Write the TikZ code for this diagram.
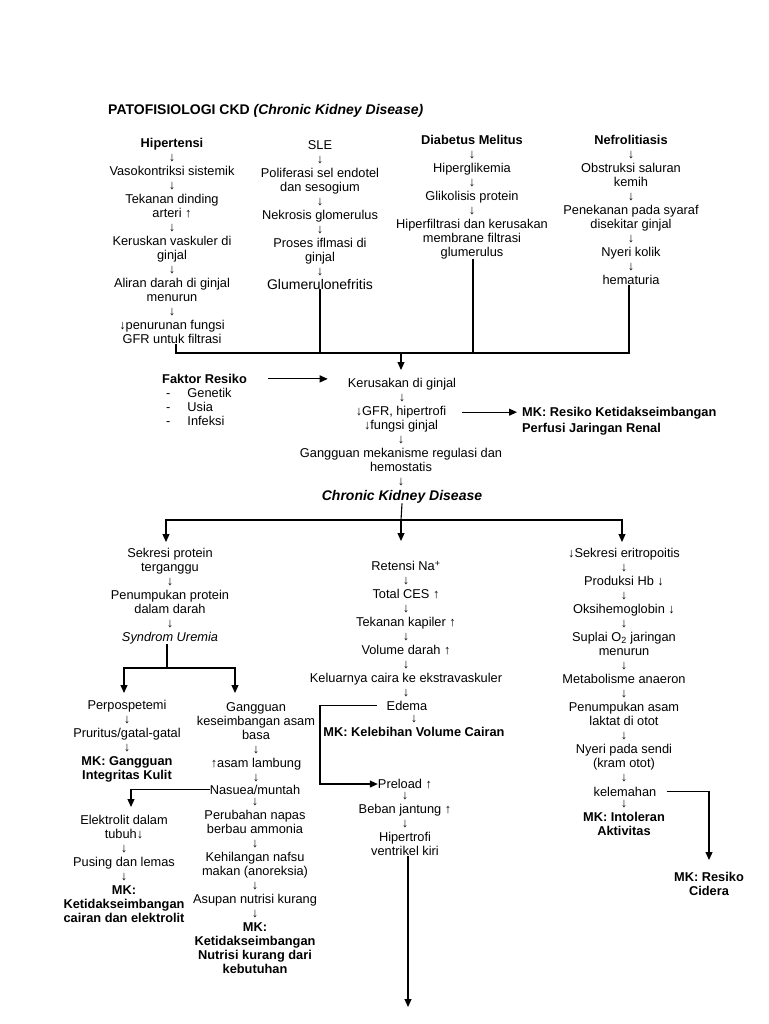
\documentclass[tikz,border=0pt]{standalone}
\usepackage{fontspec}
\setmainfont{Liberation Sans}
\usepackage{tikz}
\usetikzlibrary{arrows.meta,positioning,calc}
\tikzset{
    wire/.style={line width=1.1pt},
    arr/.style={->,>={Triangle[length=8pt,width=7pt]},line width=1.1pt},
    flow text/.style={anchor=north,align=center},
    mk text/.style={font=\fontsize{12.8}{14}\selectfont\bfseries},
}
\tikzstyle{every node}=[font=\fontsize{12.8}{14}\selectfont,inner sep=0pt]

\begin{document}
\begin{tikzpicture}[x=1pt,y=1pt]
    \path[use as bounding box,fill=white] (0,0) rectangle (768,-1024);

    \node[anchor=base west,font=\fontsize{14}{16}\selectfont\bfseries] (title) at (108,-115)
        {PATOFISIOLOGI CKD \textit{(Chronic Kidney Disease)}};

    % penyebab
    \node[flow text] (hip) at (172,-138) {\textbf{Hipertensi}\\↓\\Vasokontriksi sistemik\\↓\\Tekanan dinding\\arteri ↑\\↓\\Keruskan vaskuler di\\ginjal\\↓\\Aliran darah di ginjal\\menurun\\↓\\↓penurunan fungsi\\GFR untuk filtrasi};
    \node[flow text] (sle) at (320,-140) {SLE\\↓\\Poliferasi sel endotel\\dan sesogium\\↓\\Nekrosis glomerulus\\↓\\Proses iflmasi di\\ginjal\\↓\\{\fontsize{14}{14}\selectfont Glumerulonefritis}};
    \node[flow text] (dm) at (472,-135) {\textbf{Diabetus Melitus}\\↓\\Hiperglikemia\\↓\\Glikolisis protein\\↓\\Hiperfiltrasi dan kerusakan\\membrane filtrasi\\glumerulus};
    \node[flow text] (nef) at (631,-135) {\textbf{Nefrolitiasis}\\↓\\Obstruksi saluran\\kemih\\↓\\Penekanan pada syaraf\\disekitar ginjal\\↓\\Nyeri kolik\\↓\\hematuria};
    \coordinate (bus) at (401,-353);

    % ginjal
    \node[anchor=north west] (faktor) at (162,-374) {\textbf{Faktor Resiko}};
    \node[anchor=north west,align=left] (resiko) at (166,-388) {-\hspace{17pt}Genetik\\-\hspace{17pt}Usia\\-\hspace{17pt}Infeksi};
    \node[flow text] (kerusakan) at (402,-378) {Kerusakan di ginjal\\↓};
    \node[flow text] (gfr) at (401,-406) {↓GFR, hipertrofi};
    \node[flow text] (fungsi) at (401,-420) {↓fungsi ginjal\\↓};
    \node[flow text] (regulasi) at (401,-448) {Gangguan mekanisme regulasi dan\\hemostatis\\↓};
    \node[flow text,font=\fontsize{14}{16}\selectfont\bfseries\itshape] (ckd) at (402,-490) {Chronic Kidney Disease};
    \node[anchor=north west,align=left,mk text] (mkrenal) at (522,-407) {MK: Resiko Ketidakseimbangan\\[2pt]Perfusi Jaringan Renal};
    \coordinate (split) at (401,-520);

    % uremia
    \node[flow text] (uremia) at (170,-548) {Sekresi protein\\terganggu\\↓\\Penumpukan protein\\dalam darah\\↓\\\textit{Syndrom Uremia}};
    \coordinate (usplit) at (167,-668);
    \node[flow text] (perpo) at (127,-700) {Perpospetemi\\↓\\Pruritus/gatal-gatal\\↓\\\textbf{MK: Gangguan}\\\textbf{Integritas Kulit}};
    \node[flow text] (asam) at (256,-702) {Gangguan\\keseimbangan asam\\basa\\↓\\↑asam lambung\\↓};
    \node[flow text] (nasuea) at (255,-785) {Nasuea/muntah};
    \node[flow text] (nutrisi) at (255,-798) {↓\\Perubahan napas\\berbau ammonia\\↓\\Kehilangan nafsu\\makan (anoreksia)\\↓\\Asupan nutrisi kurang\\↓\\\textbf{MK:}\\\textbf{Ketidakseimbangan}\\\textbf{Nutrisi kurang dari}\\\textbf{kebutuhan}};
    \node[flow text] (elektro) at (124,-815) {Elektrolit dalam\\tubuh↓\\↓\\Pusing dan lemas\\↓\\\textbf{MK:}\\\textbf{Ketidakseimbangan}\\\textbf{cairan dan elektrolit}};

    % cairan
    \node[flow text] (retensi) at (406,-561) {Retensi Na\textsuperscript{+}\\↓\\Total CES ↑\\↓\\Tekanan kapiler ↑\\↓\\Volume darah ↑\\↓\\Keluarnya caira ke ekstravaskuler\\↓};
    \node[flow text] (edema) at (407,-701) {Edema};
    \node[flow text] (cairan) at (414,-715) {↓\\\textbf{MK: Kelebihan Volume Cairan}};
    \coordinate (edbend) at (320,-703);
    \node[flow text] (preload) at (405,-779) {Preload ↑};
    \node[flow text] (lvh) at (405,-792) {↓\\Beban jantung ↑\\↓\\Hipertrofi\\ventrikel kiri};
    \coordinate (lvhend) at (408,-1007);

    % anemia
    \node[flow text] (anemia) at (624,-548) {↓Sekresi eritropoitis\\↓\\Produksi Hb ↓\\↓\\Oksihemoglobin ↓\\↓\\Suplai O\textsubscript{2} jaringan\\menurun\\↓\\Metabolisme anaeron\\↓\\Penumpukan asam\\laktat di otot\\↓\\Nyeri pada sendi\\(kram otot)\\↓};
    \node[flow text] (lemah) at (625,-787) {kelemahan};
    \node[flow text] (intoleran) at (624,-800) {↓\\\textbf{MK: Intoleran}\\\textbf{Aktivitas}};
    \node[flow text,mk text] (cidera) at (709,-872) {MK: Resiko\\Cidera};

    % connectors
    \draw[wire] ([xshift=4pt]hip.south) |- (bus) -| ([xshift=-2pt]nef.south);
    \draw[wire] (sle.south) -- (sle.south |- bus);
    \draw[wire] ([xshift=1pt]dm.south) -- ([xshift=1pt]dm.south |- bus);
    \draw[arr,shorten >=8pt] (bus) -- (bus |- kerusakan.north);
    \draw[arr,shorten <=21pt,shorten >=20pt] (faktor.east) -- (faktor.east -| kerusakan.west);
    \draw[arr,shorten <=16pt,shorten >=5pt] (gfr.east) -- (gfr.east -| mkrenal.west);

    \draw[wire] (ckd.south) -- (split);
    \draw[arr,shorten >=6pt] (split) -| ([xshift=-4pt]uremia.north);
    \draw[arr,shorten >=20pt] (split) -- (split |- retensi.north);
    \draw[arr,shorten >=6pt] (split) -| ([xshift=-2pt]anemia.north);

    \draw[wire] ([xshift=-3pt]uremia.south) -- (usplit);
    \draw[arr,shorten >=7pt] (usplit) -| ([xshift=-3pt]perpo.north);
    \draw[arr,shorten >=9pt] (usplit) -| ([xshift=-21pt]asam.north);
    \draw[arr,shorten >=8pt] (nasuea.west) -| ([xshift=7pt]elektro.north);

    \draw[arr] ([xshift=-10pt]edema.west) -- (edema.west -| edbend) |- (preload.west);
    \draw[arr] ([xshift=3pt]lvh.south) -- (lvhend);
    \draw[arr,shorten >=12pt] ([xshift=10pt]lemah.east) -| (cidera.north);
\end{tikzpicture}
\end{document}
